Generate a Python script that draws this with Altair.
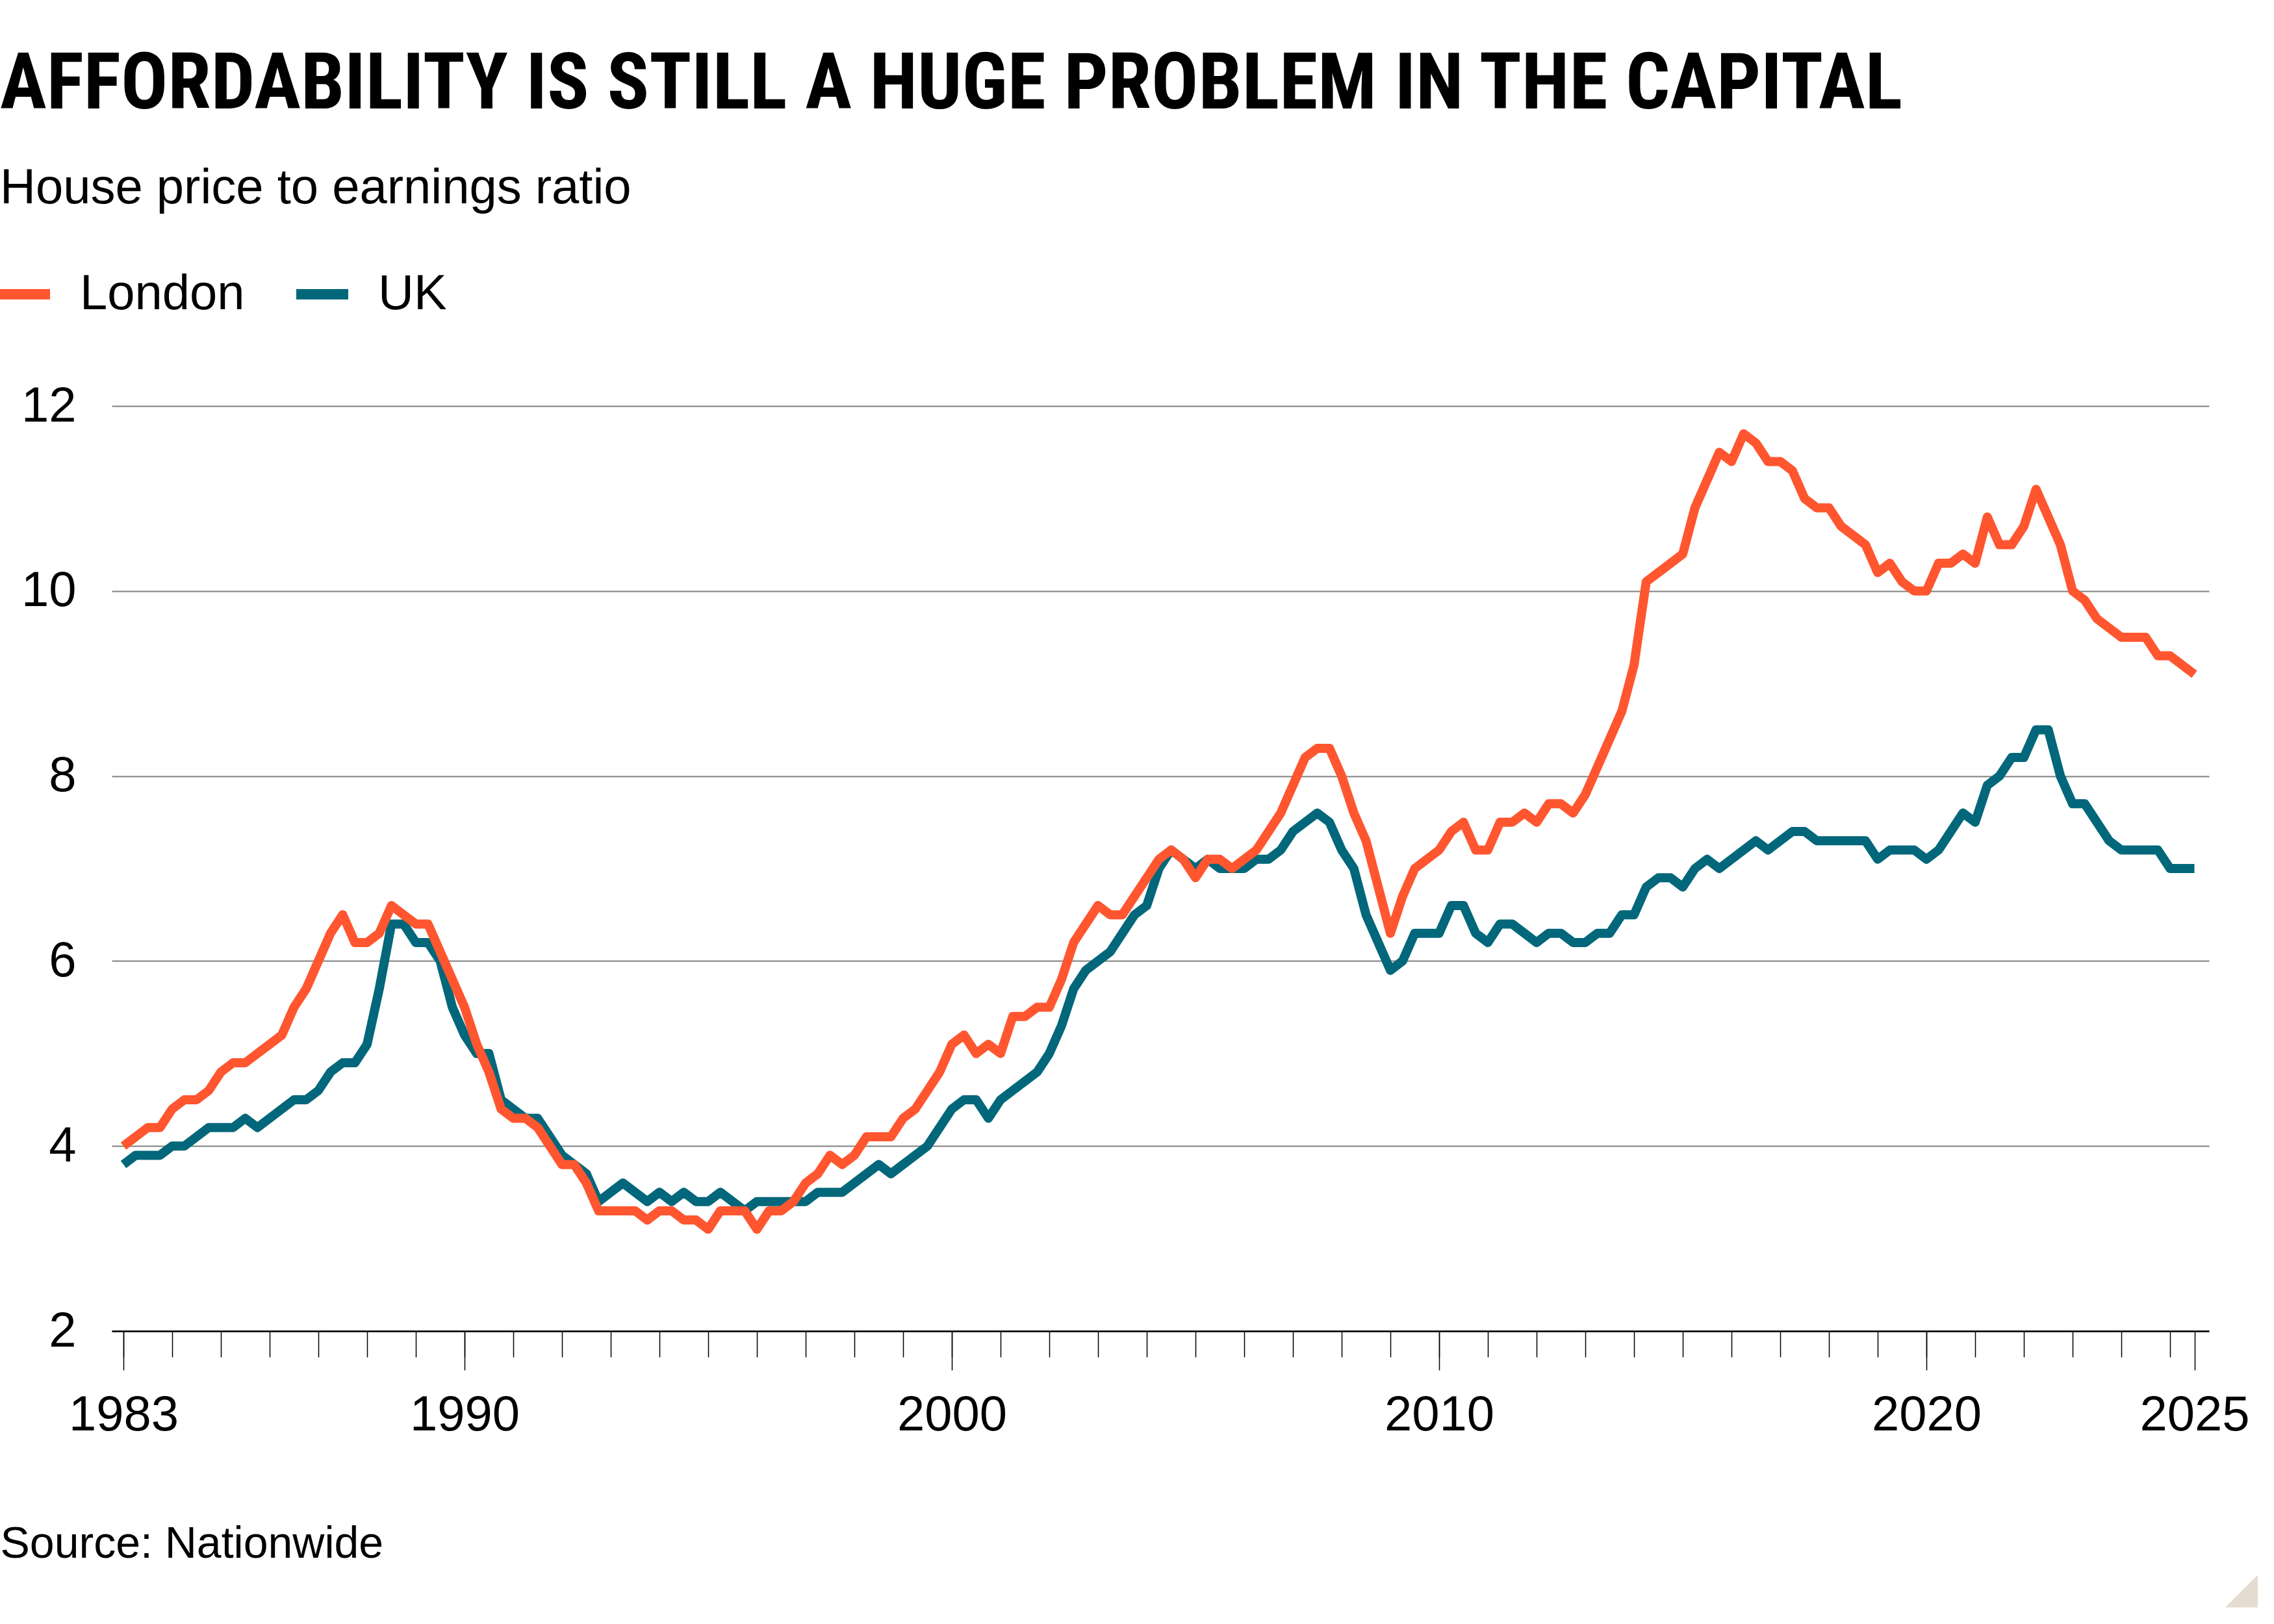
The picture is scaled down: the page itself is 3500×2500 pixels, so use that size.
import altair as alt
import pandas as pd

# ---- text ----
title_text = "AFFORDABILITY IS STILL A HUGE PROBLEM IN THE CAPITAL"
subtitle_text = "House price to earnings ratio"
source_text = "Source: Nationwide"

# ---- data: quarterly house price to earnings ratio, 1983 Q1 .. 2025 Q3 ----
start_year = 1983
series_names = ["London", "UK"]
series_colors = ["#ff5630", "#02677a"]

london = [
    4.0, 4.1, 4.2, 4.2, 4.4, 4.5, 4.5, 4.6, 4.8, 4.9, 4.9, 5.0, 5.1, 5.2, 5.5, 5.7,
    6.0, 6.3, 6.5, 6.2, 6.2, 6.3, 6.6, 6.5, 6.4, 6.4, 6.1, 5.8, 5.5, 5.1, 4.8, 4.4,
    4.3, 4.3, 4.2, 4.0, 3.8, 3.8, 3.6, 3.3, 3.3, 3.3, 3.3, 3.2, 3.3, 3.3, 3.2, 3.2,
    3.1, 3.3, 3.3, 3.3, 3.1, 3.3, 3.3, 3.4, 3.6, 3.7, 3.9, 3.8, 3.9, 4.1, 4.1, 4.1,
    4.3, 4.4, 4.6, 4.8, 5.1, 5.2, 5.0, 5.1, 5.0, 5.4, 5.4, 5.5, 5.5, 5.8, 6.2, 6.4,
    6.6, 6.5, 6.5, 6.7, 6.9, 7.1, 7.2, 7.1, 6.9, 7.1, 7.1, 7.0, 7.1, 7.2, 7.4, 7.6,
    7.9, 8.2, 8.3, 8.3, 8.0, 7.6, 7.3, 6.8, 6.3, 6.7, 7.0, 7.1, 7.2, 7.4, 7.5, 7.2,
    7.2, 7.5, 7.5, 7.6, 7.5, 7.7, 7.7, 7.6, 7.8, 8.1, 8.4, 8.7, 9.2, 10.1, 10.2, 10.3,
    10.4, 10.9, 11.2, 11.5, 11.4, 11.7, 11.6, 11.4, 11.4, 11.3, 11.0, 10.9, 10.9, 10.7, 10.6, 10.5,
    10.2, 10.3, 10.1, 10.0, 10.0, 10.3, 10.3, 10.4, 10.3, 10.8, 10.5, 10.5, 10.7, 11.1, 10.8, 10.5,
    10.0, 9.9, 9.7, 9.6, 9.5, 9.5, 9.5, 9.3, 9.3, 9.2, 9.1,
]

uk = [
    3.8, 3.9, 3.9, 3.9, 4.0, 4.0, 4.1, 4.2, 4.2, 4.2, 4.3, 4.2, 4.3, 4.4, 4.5, 4.5,
    4.6, 4.8, 4.9, 4.9, 5.1, 5.7, 6.4, 6.4, 6.2, 6.2, 6.0, 5.5, 5.2, 5.0, 5.0, 4.5,
    4.4, 4.3, 4.3, 4.1, 3.9, 3.8, 3.7, 3.4, 3.5, 3.6, 3.5, 3.4, 3.5, 3.4, 3.5, 3.4,
    3.4, 3.5, 3.4, 3.3, 3.4, 3.4, 3.4, 3.4, 3.4, 3.5, 3.5, 3.5, 3.6, 3.7, 3.8, 3.7,
    3.8, 3.9, 4.0, 4.2, 4.4, 4.5, 4.5, 4.3, 4.5, 4.6, 4.7, 4.8, 5.0, 5.3, 5.7, 5.9,
    6.0, 6.1, 6.3, 6.5, 6.6, 7.0, 7.2, 7.1, 7.0, 7.1, 7.0, 7.0, 7.0, 7.1, 7.1, 7.2,
    7.4, 7.5, 7.6, 7.5, 7.2, 7.0, 6.5, 6.2, 5.9, 6.0, 6.3, 6.3, 6.3, 6.6, 6.6, 6.3,
    6.2, 6.4, 6.4, 6.3, 6.2, 6.3, 6.3, 6.2, 6.2, 6.3, 6.3, 6.5, 6.5, 6.8, 6.9, 6.9,
    6.8, 7.0, 7.1, 7.0, 7.1, 7.2, 7.3, 7.2, 7.3, 7.4, 7.4, 7.3, 7.3, 7.3, 7.3, 7.3,
    7.1, 7.2, 7.2, 7.2, 7.1, 7.2, 7.4, 7.6, 7.5, 7.9, 8.0, 8.2, 8.2, 8.5, 8.5, 8.0,
    7.7, 7.7, 7.5, 7.3, 7.2, 7.2, 7.2, 7.2, 7.0, 7.0, 7.0,
]

major_ticks = [1983, 1990, 2000, 2010, 2020, 2025.5]
minor_ticks = list(range(1983, 2026))
y_ticks = [2, 4, 6, 8, 10, 12]

rows = []
for name, vals in zip(series_names, [london, uk]):
    for i, v in enumerate(vals):
        rows.append({"t": start_year + i / 4, "ratio": v, "series": name})
df = pd.DataFrame(rows)

FONT = "Liberation Sans, Arial, sans-serif"
TITLE_FONT = "Roboto Condensed, Open Sans Condensed, DejaVu Sans Condensed, sans-serif"

PLOT_W, PLOT_H = 3228, 1424
LEFT, TOP = 172, 625

x_scale = alt.Scale(domain=[1982.76, 2025.8], nice=False, zero=False)
y_scale = alt.Scale(domain=[2, 12], nice=False, zero=False)

y_enc = alt.Y(
    "ratio:Q", scale=y_scale, title=None,
    axis=alt.Axis(values=y_ticks, grid=True, gridColor="#808080", gridWidth=2,
                  domain=False, ticks=False, tickSize=0, labelFont=FONT,
                  labelFontSize=76, labelColor="#000000", labelPadding=55,
                  labelBaseline="middle"),
)

color_enc = alt.Color(
    "series:N",
    scale=alt.Scale(domain=series_names, range=series_colors),
    legend=alt.Legend(orient="none", legendX=-LEFT - 11, legendY=-220, direction="horizontal",
                      title=None, symbolType="stroke", symbolSize=6400,
                      symbolStrokeWidth=16, labelFont=FONT, labelFontSize=76,
                      labelColor="#000000", labelOffset=38, columnPadding=47,
                      labelLimit=1000, padding=0),
)

line_style = dict(strokeWidth=14, strokeJoin="round", strokeCap="butt")

uk_layer = alt.Chart(df).transform_filter(alt.datum.series == "UK").mark_line(**line_style).encode(
    x=alt.X("t:Q", scale=x_scale, title=None,
            axis=alt.Axis(values=minor_ticks, tickSize=40, tickWidth=1.5, tickColor="#000000",
                          labels=False, domain=False, grid=False, orient="bottom")),
    y=y_enc,
    color=color_enc,
)

london_layer = alt.Chart(df).transform_filter(alt.datum.series == "London").mark_line(**line_style).encode(
    x=alt.X("t:Q", scale=x_scale,
            axis=alt.Axis(values=major_ticks, tickSize=60, tickWidth=1.5, tickColor="#000000",
                          format="d",
                          labelExpr="datum.value == 2025.5 ? '2025' : datum.label",
                          labelFont=FONT, labelFontSize=76, labelColor="#000000",
                          labelPadding=32, labelFlush=False, labelOverlap=False,
                          domain=True, domainColor="#000000", domainWidth=2.5,
                          grid=False, orient="bottom",
                          title=source_text, titleFont=FONT, titleFontSize=68,
                          titleFontWeight="normal", titleColor="#000000",
                          titleAlign="left", titleAnchor="start", titleBaseline="alphabetic",
                          titleX=-LEFT, titleY=348)),
    y=y_enc,
    color=color_enc,
)

# small FT-style corner mark (decoration, bottom-right of the canvas)
corner = alt.Chart(pd.DataFrame({"k": [0]})).mark_point(
    shape="M -1 1 L 1 1 L 1 -1 Z", size=2500, filled=True, opacity=1,
    color="#e6dbd0", strokeWidth=0,
).encode(x=alt.value(3278), y=alt.value(1824.5))

chart = alt.layer(uk_layer, london_layer, corner).resolve_axis(x="independent").properties(
    width=PLOT_W,
    height=PLOT_H,
    autosize=alt.AutoSizeParams(type="none"),
    padding={"left": LEFT, "top": TOP, "right": 3500 - LEFT - PLOT_W, "bottom": 2500 - TOP - PLOT_H},
    background="#ffffff",
    title=alt.TitleParams(
        text=title_text, subtitle=subtitle_text, anchor="start", frame="group",
        dx=-LEFT, offset=76, font=TITLE_FONT, fontSize=120, fontWeight="bold",
        color="#000000", subtitleFont=FONT, subtitleFontSize=76,
        subtitleColor="#000000", subtitlePadding=61,
    ),
).configure_view(stroke=None)

chart.save("out.html", embed_options={"renderer": "svg", "actions": False})
